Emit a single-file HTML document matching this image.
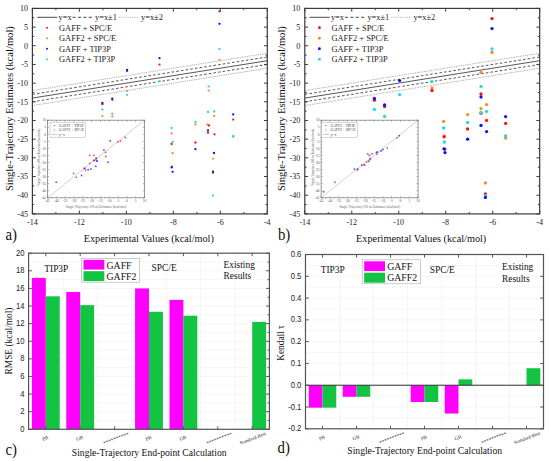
<!DOCTYPE html><html><head><meta charset="utf-8"><style>html,body{margin:0;padding:0;background:#fff;width:550px;height:461px;overflow:hidden}svg{display:block}text{font-family:"Liberation Serif", serif}</style></head><body>
<svg width="550" height="461" viewBox="0 0 550 461">
<rect width="550" height="461" fill="#fff"/>
<line x1="32.40" y1="98.07" x2="267.30" y2="60.71" stroke="#444" stroke-width="0.9" />
<line x1="32.40" y1="94.34" x2="267.30" y2="56.97" stroke="#444" stroke-width="0.9" stroke-dasharray="2.6,2.1"/>
<line x1="32.40" y1="101.81" x2="267.30" y2="64.45" stroke="#444" stroke-width="0.9" stroke-dasharray="2.6,2.1"/>
<line x1="32.40" y1="90.60" x2="267.30" y2="53.24" stroke="#8a8a8a" stroke-width="0.9" stroke-dasharray="0.8,1.0"/>
<line x1="32.40" y1="105.55" x2="267.30" y2="68.18" stroke="#8a8a8a" stroke-width="0.9" stroke-dasharray="0.8,1.0"/>
<circle cx="102.4" cy="116.1" r="1.15" fill="#ff8a20"/>
<circle cx="112.3" cy="113.6" r="1.15" fill="#ff8a20"/>
<circle cx="127.1" cy="90.8" r="1.15" fill="#ff8a20"/>
<circle cx="171.6" cy="133.4" r="1.15" fill="#ff8a20"/>
<circle cx="172.6" cy="153.2" r="1.15" fill="#ff8a20"/>
<circle cx="195.4" cy="124.4" r="1.15" fill="#ff8a20"/>
<circle cx="207.3" cy="124.5" r="1.15" fill="#ff8a20"/>
<circle cx="208.6" cy="90.6" r="1.15" fill="#ff8a20"/>
<circle cx="214.2" cy="115.9" r="1.15" fill="#ff8a20"/>
<circle cx="213.0" cy="158.6" r="1.15" fill="#ff8a20"/>
<circle cx="219.5" cy="59.9" r="1.15" fill="#ff8a20"/>
<circle cx="233.2" cy="136.8" r="1.15" fill="#ff8a20"/>
<circle cx="102.4" cy="104.2" r="1.15" fill="#ff1010"/>
<circle cx="112.3" cy="99.8" r="1.15" fill="#ff1010"/>
<circle cx="127.1" cy="71.0" r="1.15" fill="#ff1010"/>
<circle cx="159.5" cy="64.6" r="1.15" fill="#ff1010"/>
<circle cx="171.6" cy="144.0" r="1.15" fill="#ff1010"/>
<circle cx="172.0" cy="166.6" r="1.15" fill="#ff1010"/>
<circle cx="195.4" cy="142.5" r="1.15" fill="#ff1010"/>
<circle cx="209.0" cy="125.5" r="1.15" fill="#ff1010"/>
<circle cx="208.0" cy="132.7" r="1.15" fill="#ff1010"/>
<circle cx="214.5" cy="134.3" r="1.15" fill="#ff1010"/>
<circle cx="213.0" cy="171.4" r="1.15" fill="#ff1010"/>
<circle cx="219.5" cy="11.3" r="1.15" fill="#ff1010"/>
<circle cx="233.2" cy="119.6" r="1.15" fill="#ff1010"/>
<circle cx="102.4" cy="109.5" r="1.15" fill="#20dcdc"/>
<circle cx="112.3" cy="116.4" r="1.15" fill="#20dcdc"/>
<circle cx="127.1" cy="94.8" r="1.15" fill="#20dcdc"/>
<circle cx="159.5" cy="81.2" r="1.15" fill="#20dcdc"/>
<circle cx="171.6" cy="128.0" r="1.15" fill="#20dcdc"/>
<circle cx="172.6" cy="142.0" r="1.15" fill="#20dcdc"/>
<circle cx="195.4" cy="122.0" r="1.15" fill="#20dcdc"/>
<circle cx="208.0" cy="112.0" r="1.15" fill="#20dcdc"/>
<circle cx="208.6" cy="86.4" r="1.15" fill="#20dcdc"/>
<circle cx="214.2" cy="111.5" r="1.15" fill="#20dcdc"/>
<circle cx="213.0" cy="195.6" r="1.15" fill="#20dcdc"/>
<circle cx="219.5" cy="49.1" r="1.15" fill="#20dcdc"/>
<circle cx="233.2" cy="136.0" r="1.15" fill="#20dcdc"/>
<circle cx="102.4" cy="103.0" r="1.15" fill="#1010ff"/>
<circle cx="112.3" cy="98.6" r="1.15" fill="#1010ff"/>
<circle cx="127.1" cy="70.0" r="1.15" fill="#1010ff"/>
<circle cx="159.5" cy="58.2" r="1.15" fill="#1010ff"/>
<circle cx="171.6" cy="167.4" r="1.15" fill="#1010ff"/>
<circle cx="172.6" cy="171.8" r="1.15" fill="#1010ff"/>
<circle cx="195.4" cy="149.2" r="1.15" fill="#1010ff"/>
<circle cx="208.0" cy="130.3" r="1.15" fill="#1010ff"/>
<circle cx="214.0" cy="153.0" r="1.15" fill="#1010ff"/>
<circle cx="213.0" cy="172.6" r="1.15" fill="#1010ff"/>
<circle cx="219.5" cy="23.8" r="1.15" fill="#1010ff"/>
<circle cx="233.2" cy="114.4" r="1.15" fill="#1010ff"/>
<rect x="32.40" y="8.40" width="234.90" height="205.50" fill="none" stroke="#3a3a3a" stroke-width="1.2"/>
<line x1="32.40" y1="8.40" x2="35.70" y2="8.40" stroke="#3a3a3a" stroke-width="1"/>
<line x1="267.30" y1="8.40" x2="264.00" y2="8.40" stroke="#3a3a3a" stroke-width="1"/>
<text x="28.00" y="11.20" font-size="8.1" text-anchor="end" fill="#222">10</text>
<line x1="32.40" y1="17.74" x2="34.20" y2="17.74" stroke="#3a3a3a" stroke-width="1"/>
<line x1="267.30" y1="17.74" x2="265.50" y2="17.74" stroke="#3a3a3a" stroke-width="1"/>
<line x1="32.40" y1="27.08" x2="35.70" y2="27.08" stroke="#3a3a3a" stroke-width="1"/>
<line x1="267.30" y1="27.08" x2="264.00" y2="27.08" stroke="#3a3a3a" stroke-width="1"/>
<text x="28.00" y="29.88" font-size="8.1" text-anchor="end" fill="#222">5</text>
<line x1="32.40" y1="36.42" x2="34.20" y2="36.42" stroke="#3a3a3a" stroke-width="1"/>
<line x1="267.30" y1="36.42" x2="265.50" y2="36.42" stroke="#3a3a3a" stroke-width="1"/>
<line x1="32.40" y1="45.76" x2="35.70" y2="45.76" stroke="#3a3a3a" stroke-width="1"/>
<line x1="267.30" y1="45.76" x2="264.00" y2="45.76" stroke="#3a3a3a" stroke-width="1"/>
<text x="28.00" y="48.56" font-size="8.1" text-anchor="end" fill="#222">0</text>
<line x1="32.40" y1="55.10" x2="34.20" y2="55.10" stroke="#3a3a3a" stroke-width="1"/>
<line x1="267.30" y1="55.10" x2="265.50" y2="55.10" stroke="#3a3a3a" stroke-width="1"/>
<line x1="32.40" y1="64.45" x2="35.70" y2="64.45" stroke="#3a3a3a" stroke-width="1"/>
<line x1="267.30" y1="64.45" x2="264.00" y2="64.45" stroke="#3a3a3a" stroke-width="1"/>
<text x="28.00" y="67.25" font-size="8.1" text-anchor="end" fill="#222">-5</text>
<line x1="32.40" y1="73.79" x2="34.20" y2="73.79" stroke="#3a3a3a" stroke-width="1"/>
<line x1="267.30" y1="73.79" x2="265.50" y2="73.79" stroke="#3a3a3a" stroke-width="1"/>
<line x1="32.40" y1="83.13" x2="35.70" y2="83.13" stroke="#3a3a3a" stroke-width="1"/>
<line x1="267.30" y1="83.13" x2="264.00" y2="83.13" stroke="#3a3a3a" stroke-width="1"/>
<text x="28.00" y="85.93" font-size="8.1" text-anchor="end" fill="#222">-10</text>
<line x1="32.40" y1="92.47" x2="34.20" y2="92.47" stroke="#3a3a3a" stroke-width="1"/>
<line x1="267.30" y1="92.47" x2="265.50" y2="92.47" stroke="#3a3a3a" stroke-width="1"/>
<line x1="32.40" y1="101.81" x2="35.70" y2="101.81" stroke="#3a3a3a" stroke-width="1"/>
<line x1="267.30" y1="101.81" x2="264.00" y2="101.81" stroke="#3a3a3a" stroke-width="1"/>
<text x="28.00" y="104.61" font-size="8.1" text-anchor="end" fill="#222">-15</text>
<line x1="32.40" y1="111.15" x2="34.20" y2="111.15" stroke="#3a3a3a" stroke-width="1"/>
<line x1="267.30" y1="111.15" x2="265.50" y2="111.15" stroke="#3a3a3a" stroke-width="1"/>
<line x1="32.40" y1="120.49" x2="35.70" y2="120.49" stroke="#3a3a3a" stroke-width="1"/>
<line x1="267.30" y1="120.49" x2="264.00" y2="120.49" stroke="#3a3a3a" stroke-width="1"/>
<text x="28.00" y="123.29" font-size="8.1" text-anchor="end" fill="#222">-20</text>
<line x1="32.40" y1="129.83" x2="34.20" y2="129.83" stroke="#3a3a3a" stroke-width="1"/>
<line x1="267.30" y1="129.83" x2="265.50" y2="129.83" stroke="#3a3a3a" stroke-width="1"/>
<line x1="32.40" y1="139.17" x2="35.70" y2="139.17" stroke="#3a3a3a" stroke-width="1"/>
<line x1="267.30" y1="139.17" x2="264.00" y2="139.17" stroke="#3a3a3a" stroke-width="1"/>
<text x="28.00" y="141.97" font-size="8.1" text-anchor="end" fill="#222">-25</text>
<line x1="32.40" y1="148.51" x2="34.20" y2="148.51" stroke="#3a3a3a" stroke-width="1"/>
<line x1="267.30" y1="148.51" x2="265.50" y2="148.51" stroke="#3a3a3a" stroke-width="1"/>
<line x1="32.40" y1="157.85" x2="35.70" y2="157.85" stroke="#3a3a3a" stroke-width="1"/>
<line x1="267.30" y1="157.85" x2="264.00" y2="157.85" stroke="#3a3a3a" stroke-width="1"/>
<text x="28.00" y="160.65" font-size="8.1" text-anchor="end" fill="#222">-30</text>
<line x1="32.40" y1="167.20" x2="34.20" y2="167.20" stroke="#3a3a3a" stroke-width="1"/>
<line x1="267.30" y1="167.20" x2="265.50" y2="167.20" stroke="#3a3a3a" stroke-width="1"/>
<line x1="32.40" y1="176.54" x2="35.70" y2="176.54" stroke="#3a3a3a" stroke-width="1"/>
<line x1="267.30" y1="176.54" x2="264.00" y2="176.54" stroke="#3a3a3a" stroke-width="1"/>
<text x="28.00" y="179.34" font-size="8.1" text-anchor="end" fill="#222">-35</text>
<line x1="32.40" y1="185.88" x2="34.20" y2="185.88" stroke="#3a3a3a" stroke-width="1"/>
<line x1="267.30" y1="185.88" x2="265.50" y2="185.88" stroke="#3a3a3a" stroke-width="1"/>
<line x1="32.40" y1="195.22" x2="35.70" y2="195.22" stroke="#3a3a3a" stroke-width="1"/>
<line x1="267.30" y1="195.22" x2="264.00" y2="195.22" stroke="#3a3a3a" stroke-width="1"/>
<text x="28.00" y="198.02" font-size="8.1" text-anchor="end" fill="#222">-40</text>
<line x1="32.40" y1="204.56" x2="34.20" y2="204.56" stroke="#3a3a3a" stroke-width="1"/>
<line x1="267.30" y1="204.56" x2="265.50" y2="204.56" stroke="#3a3a3a" stroke-width="1"/>
<line x1="32.40" y1="213.90" x2="35.70" y2="213.90" stroke="#3a3a3a" stroke-width="1"/>
<line x1="267.30" y1="213.90" x2="264.00" y2="213.90" stroke="#3a3a3a" stroke-width="1"/>
<text x="28.00" y="216.70" font-size="8.1" text-anchor="end" fill="#222">-45</text>
<line x1="32.40" y1="213.90" x2="32.40" y2="210.60" stroke="#3a3a3a" stroke-width="1"/>
<line x1="32.40" y1="8.40" x2="32.40" y2="11.70" stroke="#3a3a3a" stroke-width="1"/>
<text x="32.40" y="224.90" font-size="8.1" text-anchor="middle" fill="#222">-14</text>
<line x1="55.89" y1="213.90" x2="55.89" y2="212.10" stroke="#3a3a3a" stroke-width="1"/>
<line x1="55.89" y1="8.40" x2="55.89" y2="10.20" stroke="#3a3a3a" stroke-width="1"/>
<line x1="79.38" y1="213.90" x2="79.38" y2="210.60" stroke="#3a3a3a" stroke-width="1"/>
<line x1="79.38" y1="8.40" x2="79.38" y2="11.70" stroke="#3a3a3a" stroke-width="1"/>
<text x="79.38" y="224.90" font-size="8.1" text-anchor="middle" fill="#222">-12</text>
<line x1="102.87" y1="213.90" x2="102.87" y2="212.10" stroke="#3a3a3a" stroke-width="1"/>
<line x1="102.87" y1="8.40" x2="102.87" y2="10.20" stroke="#3a3a3a" stroke-width="1"/>
<line x1="126.36" y1="213.90" x2="126.36" y2="210.60" stroke="#3a3a3a" stroke-width="1"/>
<line x1="126.36" y1="8.40" x2="126.36" y2="11.70" stroke="#3a3a3a" stroke-width="1"/>
<text x="126.36" y="224.90" font-size="8.1" text-anchor="middle" fill="#222">-10</text>
<line x1="149.85" y1="213.90" x2="149.85" y2="212.10" stroke="#3a3a3a" stroke-width="1"/>
<line x1="149.85" y1="8.40" x2="149.85" y2="10.20" stroke="#3a3a3a" stroke-width="1"/>
<line x1="173.34" y1="213.90" x2="173.34" y2="210.60" stroke="#3a3a3a" stroke-width="1"/>
<line x1="173.34" y1="8.40" x2="173.34" y2="11.70" stroke="#3a3a3a" stroke-width="1"/>
<text x="173.34" y="224.90" font-size="8.1" text-anchor="middle" fill="#222">-8</text>
<line x1="196.83" y1="213.90" x2="196.83" y2="212.10" stroke="#3a3a3a" stroke-width="1"/>
<line x1="196.83" y1="8.40" x2="196.83" y2="10.20" stroke="#3a3a3a" stroke-width="1"/>
<line x1="220.32" y1="213.90" x2="220.32" y2="210.60" stroke="#3a3a3a" stroke-width="1"/>
<line x1="220.32" y1="8.40" x2="220.32" y2="11.70" stroke="#3a3a3a" stroke-width="1"/>
<text x="220.32" y="224.90" font-size="8.1" text-anchor="middle" fill="#222">-6</text>
<line x1="243.81" y1="213.90" x2="243.81" y2="212.10" stroke="#3a3a3a" stroke-width="1"/>
<line x1="243.81" y1="8.40" x2="243.81" y2="10.20" stroke="#3a3a3a" stroke-width="1"/>
<line x1="267.30" y1="213.90" x2="267.30" y2="210.60" stroke="#3a3a3a" stroke-width="1"/>
<line x1="267.30" y1="8.40" x2="267.30" y2="11.70" stroke="#3a3a3a" stroke-width="1"/>
<text x="267.30" y="224.90" font-size="8.1" text-anchor="middle" fill="#222">-4</text>
<line x1="37.3" y1="17.3" x2="57.3" y2="17.3" stroke="#333" stroke-width="0.9"/>
<text x="58.5" y="20.2" font-size="8.4" fill="#222">y=x</text>
<line x1="72.5" y1="17.3" x2="92" y2="17.3" stroke="#333" stroke-width="0.9" stroke-dasharray="3.2,2.2"/>
<text x="95" y="20.2" font-size="8.4" fill="#222">y=x±1</text>
<line x1="119" y1="17.3" x2="138" y2="17.3" stroke="#999" stroke-width="0.9" stroke-dasharray="0.9,1.3"/>
<text x="141" y="20.2" font-size="8.4" fill="#222">y=x±2</text>
<circle cx="47.0" cy="27.80" r="1.0" fill="#ff1010"/>
<text x="59.0" y="30.80" font-size="8.45" fill="#222">GAFF + SPC/E</text>
<circle cx="47.0" cy="38.30" r="1.0" fill="#ff8a20"/>
<text x="59.0" y="41.30" font-size="8.45" fill="#222">GAFF2 + SPC/E</text>
<circle cx="47.0" cy="48.80" r="1.0" fill="#1010ff"/>
<text x="59.0" y="51.80" font-size="8.45" fill="#222">GAFF + TIP3P</text>
<circle cx="47.0" cy="59.30" r="1.0" fill="#20dcdc"/>
<text x="59.0" y="62.30" font-size="8.45" fill="#222">GAFF2 + TIP3P</text>
<text x="148.8" y="242" font-size="10.25" text-anchor="middle" fill="#111">Experimental Values (kcal/mol)</text>
<text transform="translate(13.0,108.6) rotate(-90)" x="0" y="0" font-size="10.6" text-anchor="middle" fill="#111">Single-Trajectory Estimates (kcal/mol)</text>
<rect x="47.50" y="120.20" width="97.00" height="77.60" fill="#fff" stroke="#888" stroke-width="0.8"/>
<line x1="47.50" y1="197.80" x2="144.50" y2="120.20" stroke="#aaa" stroke-width="0.55"/>
<line x1="47.50" y1="197.80" x2="47.50" y2="196.30" stroke="#555" stroke-width="0.5"/>
<line x1="47.50" y1="120.20" x2="47.50" y2="121.70" stroke="#555" stroke-width="0.5"/>
<line x1="47.50" y1="197.80" x2="49.00" y2="197.80" stroke="#555" stroke-width="0.5"/>
<line x1="144.50" y1="197.80" x2="143.00" y2="197.80" stroke="#555" stroke-width="0.5"/>
<text x="47.50" y="202.40" font-size="3.5" text-anchor="middle" fill="#555">-45</text>
<text x="46.00" y="199.00" font-size="3.5" text-anchor="end" fill="#555">-45</text>
<line x1="51.91" y1="197.80" x2="51.91" y2="197.00" stroke="#555" stroke-width="0.5"/>
<line x1="51.91" y1="120.20" x2="51.91" y2="121.00" stroke="#555" stroke-width="0.5"/>
<line x1="47.50" y1="194.27" x2="48.30" y2="194.27" stroke="#555" stroke-width="0.5"/>
<line x1="144.50" y1="194.27" x2="143.70" y2="194.27" stroke="#555" stroke-width="0.5"/>
<line x1="56.32" y1="197.80" x2="56.32" y2="196.30" stroke="#555" stroke-width="0.5"/>
<line x1="56.32" y1="120.20" x2="56.32" y2="121.70" stroke="#555" stroke-width="0.5"/>
<line x1="47.50" y1="190.75" x2="49.00" y2="190.75" stroke="#555" stroke-width="0.5"/>
<line x1="144.50" y1="190.75" x2="143.00" y2="190.75" stroke="#555" stroke-width="0.5"/>
<text x="56.32" y="202.40" font-size="3.5" text-anchor="middle" fill="#555">-40</text>
<text x="46.00" y="191.95" font-size="3.5" text-anchor="end" fill="#555">-40</text>
<line x1="60.73" y1="197.80" x2="60.73" y2="197.00" stroke="#555" stroke-width="0.5"/>
<line x1="60.73" y1="120.20" x2="60.73" y2="121.00" stroke="#555" stroke-width="0.5"/>
<line x1="47.50" y1="187.22" x2="48.30" y2="187.22" stroke="#555" stroke-width="0.5"/>
<line x1="144.50" y1="187.22" x2="143.70" y2="187.22" stroke="#555" stroke-width="0.5"/>
<line x1="65.14" y1="197.80" x2="65.14" y2="196.30" stroke="#555" stroke-width="0.5"/>
<line x1="65.14" y1="120.20" x2="65.14" y2="121.70" stroke="#555" stroke-width="0.5"/>
<line x1="47.50" y1="183.69" x2="49.00" y2="183.69" stroke="#555" stroke-width="0.5"/>
<line x1="144.50" y1="183.69" x2="143.00" y2="183.69" stroke="#555" stroke-width="0.5"/>
<text x="65.14" y="202.40" font-size="3.5" text-anchor="middle" fill="#555">-35</text>
<text x="46.00" y="184.89" font-size="3.5" text-anchor="end" fill="#555">-35</text>
<line x1="69.55" y1="197.80" x2="69.55" y2="197.00" stroke="#555" stroke-width="0.5"/>
<line x1="69.55" y1="120.20" x2="69.55" y2="121.00" stroke="#555" stroke-width="0.5"/>
<line x1="47.50" y1="180.16" x2="48.30" y2="180.16" stroke="#555" stroke-width="0.5"/>
<line x1="144.50" y1="180.16" x2="143.70" y2="180.16" stroke="#555" stroke-width="0.5"/>
<line x1="73.95" y1="197.80" x2="73.95" y2="196.30" stroke="#555" stroke-width="0.5"/>
<line x1="73.95" y1="120.20" x2="73.95" y2="121.70" stroke="#555" stroke-width="0.5"/>
<line x1="47.50" y1="176.64" x2="49.00" y2="176.64" stroke="#555" stroke-width="0.5"/>
<line x1="144.50" y1="176.64" x2="143.00" y2="176.64" stroke="#555" stroke-width="0.5"/>
<text x="73.95" y="202.40" font-size="3.5" text-anchor="middle" fill="#555">-30</text>
<text x="46.00" y="177.84" font-size="3.5" text-anchor="end" fill="#555">-30</text>
<line x1="78.36" y1="197.80" x2="78.36" y2="197.00" stroke="#555" stroke-width="0.5"/>
<line x1="78.36" y1="120.20" x2="78.36" y2="121.00" stroke="#555" stroke-width="0.5"/>
<line x1="47.50" y1="173.11" x2="48.30" y2="173.11" stroke="#555" stroke-width="0.5"/>
<line x1="144.50" y1="173.11" x2="143.70" y2="173.11" stroke="#555" stroke-width="0.5"/>
<line x1="82.77" y1="197.80" x2="82.77" y2="196.30" stroke="#555" stroke-width="0.5"/>
<line x1="82.77" y1="120.20" x2="82.77" y2="121.70" stroke="#555" stroke-width="0.5"/>
<line x1="47.50" y1="169.58" x2="49.00" y2="169.58" stroke="#555" stroke-width="0.5"/>
<line x1="144.50" y1="169.58" x2="143.00" y2="169.58" stroke="#555" stroke-width="0.5"/>
<text x="82.77" y="202.40" font-size="3.5" text-anchor="middle" fill="#555">-25</text>
<text x="46.00" y="170.78" font-size="3.5" text-anchor="end" fill="#555">-25</text>
<line x1="87.18" y1="197.80" x2="87.18" y2="197.00" stroke="#555" stroke-width="0.5"/>
<line x1="87.18" y1="120.20" x2="87.18" y2="121.00" stroke="#555" stroke-width="0.5"/>
<line x1="47.50" y1="166.05" x2="48.30" y2="166.05" stroke="#555" stroke-width="0.5"/>
<line x1="144.50" y1="166.05" x2="143.70" y2="166.05" stroke="#555" stroke-width="0.5"/>
<line x1="91.59" y1="197.80" x2="91.59" y2="196.30" stroke="#555" stroke-width="0.5"/>
<line x1="91.59" y1="120.20" x2="91.59" y2="121.70" stroke="#555" stroke-width="0.5"/>
<line x1="47.50" y1="162.53" x2="49.00" y2="162.53" stroke="#555" stroke-width="0.5"/>
<line x1="144.50" y1="162.53" x2="143.00" y2="162.53" stroke="#555" stroke-width="0.5"/>
<text x="91.59" y="202.40" font-size="3.5" text-anchor="middle" fill="#555">-20</text>
<text x="46.00" y="163.73" font-size="3.5" text-anchor="end" fill="#555">-20</text>
<line x1="96.00" y1="197.80" x2="96.00" y2="197.00" stroke="#555" stroke-width="0.5"/>
<line x1="96.00" y1="120.20" x2="96.00" y2="121.00" stroke="#555" stroke-width="0.5"/>
<line x1="47.50" y1="159.00" x2="48.30" y2="159.00" stroke="#555" stroke-width="0.5"/>
<line x1="144.50" y1="159.00" x2="143.70" y2="159.00" stroke="#555" stroke-width="0.5"/>
<line x1="100.41" y1="197.80" x2="100.41" y2="196.30" stroke="#555" stroke-width="0.5"/>
<line x1="100.41" y1="120.20" x2="100.41" y2="121.70" stroke="#555" stroke-width="0.5"/>
<line x1="47.50" y1="155.47" x2="49.00" y2="155.47" stroke="#555" stroke-width="0.5"/>
<line x1="144.50" y1="155.47" x2="143.00" y2="155.47" stroke="#555" stroke-width="0.5"/>
<text x="100.41" y="202.40" font-size="3.5" text-anchor="middle" fill="#555">-15</text>
<text x="46.00" y="156.67" font-size="3.5" text-anchor="end" fill="#555">-15</text>
<line x1="104.82" y1="197.80" x2="104.82" y2="197.00" stroke="#555" stroke-width="0.5"/>
<line x1="104.82" y1="120.20" x2="104.82" y2="121.00" stroke="#555" stroke-width="0.5"/>
<line x1="47.50" y1="151.95" x2="48.30" y2="151.95" stroke="#555" stroke-width="0.5"/>
<line x1="144.50" y1="151.95" x2="143.70" y2="151.95" stroke="#555" stroke-width="0.5"/>
<line x1="109.23" y1="197.80" x2="109.23" y2="196.30" stroke="#555" stroke-width="0.5"/>
<line x1="109.23" y1="120.20" x2="109.23" y2="121.70" stroke="#555" stroke-width="0.5"/>
<line x1="47.50" y1="148.42" x2="49.00" y2="148.42" stroke="#555" stroke-width="0.5"/>
<line x1="144.50" y1="148.42" x2="143.00" y2="148.42" stroke="#555" stroke-width="0.5"/>
<text x="109.23" y="202.40" font-size="3.5" text-anchor="middle" fill="#555">-10</text>
<text x="46.00" y="149.62" font-size="3.5" text-anchor="end" fill="#555">-10</text>
<line x1="113.64" y1="197.80" x2="113.64" y2="197.00" stroke="#555" stroke-width="0.5"/>
<line x1="113.64" y1="120.20" x2="113.64" y2="121.00" stroke="#555" stroke-width="0.5"/>
<line x1="47.50" y1="144.89" x2="48.30" y2="144.89" stroke="#555" stroke-width="0.5"/>
<line x1="144.50" y1="144.89" x2="143.70" y2="144.89" stroke="#555" stroke-width="0.5"/>
<line x1="118.05" y1="197.80" x2="118.05" y2="196.30" stroke="#555" stroke-width="0.5"/>
<line x1="118.05" y1="120.20" x2="118.05" y2="121.70" stroke="#555" stroke-width="0.5"/>
<line x1="47.50" y1="141.36" x2="49.00" y2="141.36" stroke="#555" stroke-width="0.5"/>
<line x1="144.50" y1="141.36" x2="143.00" y2="141.36" stroke="#555" stroke-width="0.5"/>
<text x="118.05" y="202.40" font-size="3.5" text-anchor="middle" fill="#555">-5</text>
<text x="46.00" y="142.56" font-size="3.5" text-anchor="end" fill="#555">-5</text>
<line x1="122.45" y1="197.80" x2="122.45" y2="197.00" stroke="#555" stroke-width="0.5"/>
<line x1="122.45" y1="120.20" x2="122.45" y2="121.00" stroke="#555" stroke-width="0.5"/>
<line x1="47.50" y1="137.84" x2="48.30" y2="137.84" stroke="#555" stroke-width="0.5"/>
<line x1="144.50" y1="137.84" x2="143.70" y2="137.84" stroke="#555" stroke-width="0.5"/>
<line x1="126.86" y1="197.80" x2="126.86" y2="196.30" stroke="#555" stroke-width="0.5"/>
<line x1="126.86" y1="120.20" x2="126.86" y2="121.70" stroke="#555" stroke-width="0.5"/>
<line x1="47.50" y1="134.31" x2="49.00" y2="134.31" stroke="#555" stroke-width="0.5"/>
<line x1="144.50" y1="134.31" x2="143.00" y2="134.31" stroke="#555" stroke-width="0.5"/>
<text x="126.86" y="202.40" font-size="3.5" text-anchor="middle" fill="#555">0</text>
<text x="46.00" y="135.51" font-size="3.5" text-anchor="end" fill="#555">0</text>
<line x1="131.27" y1="197.80" x2="131.27" y2="197.00" stroke="#555" stroke-width="0.5"/>
<line x1="131.27" y1="120.20" x2="131.27" y2="121.00" stroke="#555" stroke-width="0.5"/>
<line x1="47.50" y1="130.78" x2="48.30" y2="130.78" stroke="#555" stroke-width="0.5"/>
<line x1="144.50" y1="130.78" x2="143.70" y2="130.78" stroke="#555" stroke-width="0.5"/>
<line x1="135.68" y1="197.80" x2="135.68" y2="196.30" stroke="#555" stroke-width="0.5"/>
<line x1="135.68" y1="120.20" x2="135.68" y2="121.70" stroke="#555" stroke-width="0.5"/>
<line x1="47.50" y1="127.25" x2="49.00" y2="127.25" stroke="#555" stroke-width="0.5"/>
<line x1="144.50" y1="127.25" x2="143.00" y2="127.25" stroke="#555" stroke-width="0.5"/>
<text x="135.68" y="202.40" font-size="3.5" text-anchor="middle" fill="#555">5</text>
<text x="46.00" y="128.45" font-size="3.5" text-anchor="end" fill="#555">5</text>
<line x1="140.09" y1="197.80" x2="140.09" y2="197.00" stroke="#555" stroke-width="0.5"/>
<line x1="140.09" y1="120.20" x2="140.09" y2="121.00" stroke="#555" stroke-width="0.5"/>
<line x1="47.50" y1="123.73" x2="48.30" y2="123.73" stroke="#555" stroke-width="0.5"/>
<line x1="144.50" y1="123.73" x2="143.70" y2="123.73" stroke="#555" stroke-width="0.5"/>
<line x1="144.50" y1="197.80" x2="144.50" y2="196.30" stroke="#555" stroke-width="0.5"/>
<line x1="144.50" y1="120.20" x2="144.50" y2="121.70" stroke="#555" stroke-width="0.5"/>
<line x1="47.50" y1="120.20" x2="49.00" y2="120.20" stroke="#555" stroke-width="0.5"/>
<line x1="144.50" y1="120.20" x2="143.00" y2="120.20" stroke="#555" stroke-width="0.5"/>
<text x="144.50" y="202.40" font-size="3.5" text-anchor="middle" fill="#555">10</text>
<text x="46.00" y="121.40" font-size="3.5" text-anchor="end" fill="#555">10</text>
<text x="96.00" y="207.60" font-size="3.3" text-anchor="middle" fill="#666">Single-Trajectory 100 ns Estimates (kcal/mol)</text>
<text transform="translate(39.90,157.20) rotate(-90)" font-size="3.1" text-anchor="middle" fill="#666">Single-Trajectory 100 ns Estimates (kcal/mol)</text>
<rect x="50" y="122.4" width="35.7" height="14.8" fill="#fff" stroke="#999" stroke-width="0.4"/>
<circle cx="54.5" cy="125.6" r="0.6" fill="#3333ff"/>
<text x="59" y="126.9" font-size="3.7" fill="#333">GAFF2 + TIP3P</text>
<circle cx="54.5" cy="130" r="0.6" fill="#ff3333"/>
<text x="59" y="131.3" font-size="3.7" fill="#333">GAFF2 + SPC/E</text>
<line x1="51.5" y1="134.5" x2="57.5" y2="134.5" stroke="#888" stroke-width="0.4"/>
<text x="59" y="135.8" font-size="3.7" fill="#333">y=x</text>
<rect x="124.60" y="136.70" width="1.6" height="1.6" fill="#3030ff" opacity="0.85"/>
<rect x="117.20" y="141.10" width="1.6" height="1.6" fill="#ff3030" opacity="0.85"/>
<rect x="119.70" y="140.20" width="1.6" height="1.6" fill="#ff3030" opacity="0.85"/>
<rect x="109.40" y="140.00" width="1.6" height="1.6" fill="#3030ff" opacity="0.85"/>
<rect x="103.10" y="149.20" width="1.6" height="1.6" fill="#3030ff" opacity="0.85"/>
<rect x="104.80" y="151.60" width="1.6" height="1.6" fill="#ff3030" opacity="0.85"/>
<rect x="105.00" y="155.70" width="1.6" height="1.6" fill="#ff3030" opacity="0.85"/>
<rect x="95.50" y="157.60" width="1.6" height="1.6" fill="#3030ff" opacity="0.85"/>
<rect x="96.20" y="160.30" width="1.6" height="1.6" fill="#3030ff" opacity="0.85"/>
<rect x="107.20" y="161.40" width="1.6" height="1.6" fill="#3030ff" opacity="0.85"/>
<rect x="88.90" y="154.60" width="1.6" height="1.6" fill="#ff3030" opacity="0.85"/>
<rect x="93.10" y="154.60" width="1.6" height="1.6" fill="#ff3030" opacity="0.85"/>
<rect x="95.30" y="157.80" width="1.6" height="1.6" fill="#3030ff" opacity="0.85"/>
<rect x="92.70" y="159.60" width="1.6" height="1.6" fill="#ff3030" opacity="0.85"/>
<rect x="93.70" y="159.60" width="1.6" height="1.6" fill="#3030ff" opacity="0.85"/>
<rect x="96.10" y="160.20" width="1.6" height="1.6" fill="#3030ff" opacity="0.85"/>
<rect x="88.90" y="162.60" width="1.6" height="1.6" fill="#ff3030" opacity="0.85"/>
<rect x="94.90" y="165.50" width="1.6" height="1.6" fill="#3030ff" opacity="0.85"/>
<rect x="83.20" y="167.60" width="1.6" height="1.6" fill="#ff3030" opacity="0.85"/>
<rect x="84.00" y="167.60" width="1.6" height="1.6" fill="#3030ff" opacity="0.85"/>
<rect x="84.80" y="169.50" width="1.6" height="1.6" fill="#ff3030" opacity="0.85"/>
<rect x="87.40" y="168.80" width="1.6" height="1.6" fill="#3030ff" opacity="0.85"/>
<rect x="90.20" y="168.30" width="1.6" height="1.6" fill="#3030ff" opacity="0.85"/>
<rect x="72.80" y="172.70" width="1.6" height="1.6" fill="#ff3030" opacity="0.85"/>
<rect x="75.50" y="176.50" width="1.6" height="1.6" fill="#ff3030" opacity="0.85"/>
<rect x="80.80" y="174.70" width="1.6" height="1.6" fill="#3030ff" opacity="0.85"/>
<rect x="55.50" y="181.40" width="1.6" height="1.6" fill="#3030ff" opacity="0.85"/>
<line x1="304.80" y1="98.07" x2="539.70" y2="60.71" stroke="#444" stroke-width="0.9" />
<line x1="304.80" y1="94.34" x2="539.70" y2="56.97" stroke="#444" stroke-width="0.9" stroke-dasharray="2.6,2.1"/>
<line x1="304.80" y1="101.81" x2="539.70" y2="64.45" stroke="#444" stroke-width="0.9" stroke-dasharray="2.6,2.1"/>
<line x1="304.80" y1="90.60" x2="539.70" y2="53.24" stroke="#8a8a8a" stroke-width="0.9" stroke-dasharray="0.8,1.0"/>
<line x1="304.80" y1="105.55" x2="539.70" y2="68.18" stroke="#8a8a8a" stroke-width="0.9" stroke-dasharray="0.8,1.0"/>
<circle cx="432.0" cy="88.0" r="1.65" fill="#ff8a20"/>
<circle cx="443.6" cy="121.4" r="1.65" fill="#ff8a20"/>
<circle cx="444.4" cy="136.0" r="1.65" fill="#ff8a20"/>
<circle cx="467.6" cy="114.6" r="1.65" fill="#ff8a20"/>
<circle cx="481.0" cy="72.4" r="1.65" fill="#ff8a20"/>
<circle cx="481.0" cy="108.6" r="1.65" fill="#ff8a20"/>
<circle cx="486.6" cy="104.6" r="1.65" fill="#ff8a20"/>
<circle cx="485.4" cy="183.0" r="1.65" fill="#ff8a20"/>
<circle cx="492.0" cy="52.4" r="1.65" fill="#ff8a20"/>
<circle cx="505.6" cy="138.0" r="1.65" fill="#ff8a20"/>
<circle cx="374.4" cy="100.2" r="1.65" fill="#ff1010"/>
<circle cx="384.6" cy="106.6" r="1.65" fill="#ff1010"/>
<circle cx="432.0" cy="90.5" r="1.65" fill="#ff1010"/>
<circle cx="444.0" cy="136.8" r="1.65" fill="#ff1010"/>
<circle cx="444.8" cy="149.2" r="1.65" fill="#ff1010"/>
<circle cx="467.6" cy="129.0" r="1.65" fill="#ff1010"/>
<circle cx="481.0" cy="94.0" r="1.65" fill="#ff1010"/>
<circle cx="481.0" cy="113.2" r="1.65" fill="#ff1010"/>
<circle cx="486.6" cy="120.4" r="1.65" fill="#ff1010"/>
<circle cx="485.4" cy="194.0" r="1.65" fill="#ff1010"/>
<circle cx="492.0" cy="18.6" r="1.65" fill="#ff1010"/>
<circle cx="505.6" cy="123.4" r="1.65" fill="#ff1010"/>
<circle cx="374.4" cy="109.4" r="1.65" fill="#20dcdc"/>
<circle cx="384.6" cy="116.4" r="1.65" fill="#20dcdc"/>
<circle cx="399.6" cy="94.6" r="1.65" fill="#20dcdc"/>
<circle cx="432.0" cy="81.6" r="1.65" fill="#20dcdc"/>
<circle cx="443.6" cy="128.0" r="1.65" fill="#20dcdc"/>
<circle cx="444.4" cy="142.0" r="1.65" fill="#20dcdc"/>
<circle cx="467.6" cy="122.4" r="1.65" fill="#20dcdc"/>
<circle cx="481.0" cy="86.4" r="1.65" fill="#20dcdc"/>
<circle cx="481.0" cy="112.4" r="1.65" fill="#20dcdc"/>
<circle cx="486.6" cy="111.4" r="1.65" fill="#20dcdc"/>
<circle cx="485.4" cy="195.6" r="1.65" fill="#20dcdc"/>
<circle cx="492.0" cy="49.0" r="1.65" fill="#20dcdc"/>
<circle cx="505.6" cy="136.0" r="1.65" fill="#20dcdc"/>
<circle cx="374.4" cy="98.4" r="1.65" fill="#1010ff"/>
<circle cx="384.6" cy="105.0" r="1.65" fill="#1010ff"/>
<circle cx="399.6" cy="80.6" r="1.65" fill="#1010ff"/>
<circle cx="444.0" cy="148.8" r="1.65" fill="#1010ff"/>
<circle cx="445.0" cy="152.6" r="1.65" fill="#1010ff"/>
<circle cx="467.6" cy="139.2" r="1.65" fill="#1010ff"/>
<circle cx="481.0" cy="97.0" r="1.65" fill="#1010ff"/>
<circle cx="481.0" cy="125.4" r="1.65" fill="#1010ff"/>
<circle cx="486.6" cy="131.6" r="1.65" fill="#1010ff"/>
<circle cx="485.4" cy="197.4" r="1.65" fill="#1010ff"/>
<circle cx="492.0" cy="28.6" r="1.65" fill="#1010ff"/>
<circle cx="505.6" cy="116.6" r="1.65" fill="#1010ff"/>
<rect x="304.80" y="8.40" width="234.90" height="205.50" fill="none" stroke="#3a3a3a" stroke-width="1.2"/>
<line x1="304.80" y1="8.40" x2="308.10" y2="8.40" stroke="#3a3a3a" stroke-width="1"/>
<line x1="539.70" y1="8.40" x2="536.40" y2="8.40" stroke="#3a3a3a" stroke-width="1"/>
<text x="300.40" y="11.20" font-size="8.1" text-anchor="end" fill="#222">10</text>
<line x1="304.80" y1="17.74" x2="306.60" y2="17.74" stroke="#3a3a3a" stroke-width="1"/>
<line x1="539.70" y1="17.74" x2="537.90" y2="17.74" stroke="#3a3a3a" stroke-width="1"/>
<line x1="304.80" y1="27.08" x2="308.10" y2="27.08" stroke="#3a3a3a" stroke-width="1"/>
<line x1="539.70" y1="27.08" x2="536.40" y2="27.08" stroke="#3a3a3a" stroke-width="1"/>
<text x="300.40" y="29.88" font-size="8.1" text-anchor="end" fill="#222">5</text>
<line x1="304.80" y1="36.42" x2="306.60" y2="36.42" stroke="#3a3a3a" stroke-width="1"/>
<line x1="539.70" y1="36.42" x2="537.90" y2="36.42" stroke="#3a3a3a" stroke-width="1"/>
<line x1="304.80" y1="45.76" x2="308.10" y2="45.76" stroke="#3a3a3a" stroke-width="1"/>
<line x1="539.70" y1="45.76" x2="536.40" y2="45.76" stroke="#3a3a3a" stroke-width="1"/>
<text x="300.40" y="48.56" font-size="8.1" text-anchor="end" fill="#222">0</text>
<line x1="304.80" y1="55.10" x2="306.60" y2="55.10" stroke="#3a3a3a" stroke-width="1"/>
<line x1="539.70" y1="55.10" x2="537.90" y2="55.10" stroke="#3a3a3a" stroke-width="1"/>
<line x1="304.80" y1="64.45" x2="308.10" y2="64.45" stroke="#3a3a3a" stroke-width="1"/>
<line x1="539.70" y1="64.45" x2="536.40" y2="64.45" stroke="#3a3a3a" stroke-width="1"/>
<text x="300.40" y="67.25" font-size="8.1" text-anchor="end" fill="#222">-5</text>
<line x1="304.80" y1="73.79" x2="306.60" y2="73.79" stroke="#3a3a3a" stroke-width="1"/>
<line x1="539.70" y1="73.79" x2="537.90" y2="73.79" stroke="#3a3a3a" stroke-width="1"/>
<line x1="304.80" y1="83.13" x2="308.10" y2="83.13" stroke="#3a3a3a" stroke-width="1"/>
<line x1="539.70" y1="83.13" x2="536.40" y2="83.13" stroke="#3a3a3a" stroke-width="1"/>
<text x="300.40" y="85.93" font-size="8.1" text-anchor="end" fill="#222">-10</text>
<line x1="304.80" y1="92.47" x2="306.60" y2="92.47" stroke="#3a3a3a" stroke-width="1"/>
<line x1="539.70" y1="92.47" x2="537.90" y2="92.47" stroke="#3a3a3a" stroke-width="1"/>
<line x1="304.80" y1="101.81" x2="308.10" y2="101.81" stroke="#3a3a3a" stroke-width="1"/>
<line x1="539.70" y1="101.81" x2="536.40" y2="101.81" stroke="#3a3a3a" stroke-width="1"/>
<text x="300.40" y="104.61" font-size="8.1" text-anchor="end" fill="#222">-15</text>
<line x1="304.80" y1="111.15" x2="306.60" y2="111.15" stroke="#3a3a3a" stroke-width="1"/>
<line x1="539.70" y1="111.15" x2="537.90" y2="111.15" stroke="#3a3a3a" stroke-width="1"/>
<line x1="304.80" y1="120.49" x2="308.10" y2="120.49" stroke="#3a3a3a" stroke-width="1"/>
<line x1="539.70" y1="120.49" x2="536.40" y2="120.49" stroke="#3a3a3a" stroke-width="1"/>
<text x="300.40" y="123.29" font-size="8.1" text-anchor="end" fill="#222">-20</text>
<line x1="304.80" y1="129.83" x2="306.60" y2="129.83" stroke="#3a3a3a" stroke-width="1"/>
<line x1="539.70" y1="129.83" x2="537.90" y2="129.83" stroke="#3a3a3a" stroke-width="1"/>
<line x1="304.80" y1="139.17" x2="308.10" y2="139.17" stroke="#3a3a3a" stroke-width="1"/>
<line x1="539.70" y1="139.17" x2="536.40" y2="139.17" stroke="#3a3a3a" stroke-width="1"/>
<text x="300.40" y="141.97" font-size="8.1" text-anchor="end" fill="#222">-25</text>
<line x1="304.80" y1="148.51" x2="306.60" y2="148.51" stroke="#3a3a3a" stroke-width="1"/>
<line x1="539.70" y1="148.51" x2="537.90" y2="148.51" stroke="#3a3a3a" stroke-width="1"/>
<line x1="304.80" y1="157.85" x2="308.10" y2="157.85" stroke="#3a3a3a" stroke-width="1"/>
<line x1="539.70" y1="157.85" x2="536.40" y2="157.85" stroke="#3a3a3a" stroke-width="1"/>
<text x="300.40" y="160.65" font-size="8.1" text-anchor="end" fill="#222">-30</text>
<line x1="304.80" y1="167.20" x2="306.60" y2="167.20" stroke="#3a3a3a" stroke-width="1"/>
<line x1="539.70" y1="167.20" x2="537.90" y2="167.20" stroke="#3a3a3a" stroke-width="1"/>
<line x1="304.80" y1="176.54" x2="308.10" y2="176.54" stroke="#3a3a3a" stroke-width="1"/>
<line x1="539.70" y1="176.54" x2="536.40" y2="176.54" stroke="#3a3a3a" stroke-width="1"/>
<text x="300.40" y="179.34" font-size="8.1" text-anchor="end" fill="#222">-35</text>
<line x1="304.80" y1="185.88" x2="306.60" y2="185.88" stroke="#3a3a3a" stroke-width="1"/>
<line x1="539.70" y1="185.88" x2="537.90" y2="185.88" stroke="#3a3a3a" stroke-width="1"/>
<line x1="304.80" y1="195.22" x2="308.10" y2="195.22" stroke="#3a3a3a" stroke-width="1"/>
<line x1="539.70" y1="195.22" x2="536.40" y2="195.22" stroke="#3a3a3a" stroke-width="1"/>
<text x="300.40" y="198.02" font-size="8.1" text-anchor="end" fill="#222">-40</text>
<line x1="304.80" y1="204.56" x2="306.60" y2="204.56" stroke="#3a3a3a" stroke-width="1"/>
<line x1="539.70" y1="204.56" x2="537.90" y2="204.56" stroke="#3a3a3a" stroke-width="1"/>
<line x1="304.80" y1="213.90" x2="308.10" y2="213.90" stroke="#3a3a3a" stroke-width="1"/>
<line x1="539.70" y1="213.90" x2="536.40" y2="213.90" stroke="#3a3a3a" stroke-width="1"/>
<text x="300.40" y="216.70" font-size="8.1" text-anchor="end" fill="#222">-45</text>
<line x1="304.80" y1="213.90" x2="304.80" y2="210.60" stroke="#3a3a3a" stroke-width="1"/>
<line x1="304.80" y1="8.40" x2="304.80" y2="11.70" stroke="#3a3a3a" stroke-width="1"/>
<text x="304.80" y="224.90" font-size="8.1" text-anchor="middle" fill="#222">-14</text>
<line x1="328.29" y1="213.90" x2="328.29" y2="212.10" stroke="#3a3a3a" stroke-width="1"/>
<line x1="328.29" y1="8.40" x2="328.29" y2="10.20" stroke="#3a3a3a" stroke-width="1"/>
<line x1="351.78" y1="213.90" x2="351.78" y2="210.60" stroke="#3a3a3a" stroke-width="1"/>
<line x1="351.78" y1="8.40" x2="351.78" y2="11.70" stroke="#3a3a3a" stroke-width="1"/>
<text x="351.78" y="224.90" font-size="8.1" text-anchor="middle" fill="#222">-12</text>
<line x1="375.27" y1="213.90" x2="375.27" y2="212.10" stroke="#3a3a3a" stroke-width="1"/>
<line x1="375.27" y1="8.40" x2="375.27" y2="10.20" stroke="#3a3a3a" stroke-width="1"/>
<line x1="398.76" y1="213.90" x2="398.76" y2="210.60" stroke="#3a3a3a" stroke-width="1"/>
<line x1="398.76" y1="8.40" x2="398.76" y2="11.70" stroke="#3a3a3a" stroke-width="1"/>
<text x="398.76" y="224.90" font-size="8.1" text-anchor="middle" fill="#222">-10</text>
<line x1="422.25" y1="213.90" x2="422.25" y2="212.10" stroke="#3a3a3a" stroke-width="1"/>
<line x1="422.25" y1="8.40" x2="422.25" y2="10.20" stroke="#3a3a3a" stroke-width="1"/>
<line x1="445.74" y1="213.90" x2="445.74" y2="210.60" stroke="#3a3a3a" stroke-width="1"/>
<line x1="445.74" y1="8.40" x2="445.74" y2="11.70" stroke="#3a3a3a" stroke-width="1"/>
<text x="445.74" y="224.90" font-size="8.1" text-anchor="middle" fill="#222">-8</text>
<line x1="469.23" y1="213.90" x2="469.23" y2="212.10" stroke="#3a3a3a" stroke-width="1"/>
<line x1="469.23" y1="8.40" x2="469.23" y2="10.20" stroke="#3a3a3a" stroke-width="1"/>
<line x1="492.72" y1="213.90" x2="492.72" y2="210.60" stroke="#3a3a3a" stroke-width="1"/>
<line x1="492.72" y1="8.40" x2="492.72" y2="11.70" stroke="#3a3a3a" stroke-width="1"/>
<text x="492.72" y="224.90" font-size="8.1" text-anchor="middle" fill="#222">-6</text>
<line x1="516.21" y1="213.90" x2="516.21" y2="212.10" stroke="#3a3a3a" stroke-width="1"/>
<line x1="516.21" y1="8.40" x2="516.21" y2="10.20" stroke="#3a3a3a" stroke-width="1"/>
<line x1="539.70" y1="213.90" x2="539.70" y2="210.60" stroke="#3a3a3a" stroke-width="1"/>
<line x1="539.70" y1="8.40" x2="539.70" y2="11.70" stroke="#3a3a3a" stroke-width="1"/>
<text x="539.70" y="224.90" font-size="8.1" text-anchor="middle" fill="#222">-4</text>
<line x1="309.7" y1="17.3" x2="329.7" y2="17.3" stroke="#333" stroke-width="0.9"/>
<text x="330.9" y="20.2" font-size="8.4" fill="#222">y=x</text>
<line x1="344.9" y1="17.3" x2="364.4" y2="17.3" stroke="#333" stroke-width="0.9" stroke-dasharray="3.2,2.2"/>
<text x="367.4" y="20.2" font-size="8.4" fill="#222">y=x±1</text>
<line x1="391.4" y1="17.3" x2="410.4" y2="17.3" stroke="#999" stroke-width="0.9" stroke-dasharray="0.9,1.3"/>
<text x="413.4" y="20.2" font-size="8.4" fill="#222">y=x±2</text>
<circle cx="319.4" cy="27.80" r="1.45" fill="#ff1010"/>
<text x="331.4" y="30.80" font-size="8.45" fill="#222">GAFF + SPC/E</text>
<circle cx="319.4" cy="38.30" r="1.45" fill="#ff8a20"/>
<text x="331.4" y="41.30" font-size="8.45" fill="#222">GAFF2 + SPC/E</text>
<circle cx="319.4" cy="48.80" r="1.45" fill="#1010ff"/>
<text x="331.4" y="51.80" font-size="8.45" fill="#222">GAFF + TIP3P</text>
<circle cx="319.4" cy="59.30" r="1.45" fill="#20dcdc"/>
<text x="331.4" y="62.30" font-size="8.45" fill="#222">GAFF2 + TIP3P</text>
<text x="421.2" y="242" font-size="10.25" text-anchor="middle" fill="#111">Experimental Values (kcal/mol)</text>
<text transform="translate(285.4,108.6) rotate(-90)" x="0" y="0" font-size="10.6" text-anchor="middle" fill="#111">Single-Trajectory Estimates (kcal/mol)</text>
<rect x="321.10" y="120.20" width="97.00" height="77.60" fill="#fff" stroke="#888" stroke-width="0.8"/>
<line x1="321.10" y1="197.80" x2="418.10" y2="120.20" stroke="#aaa" stroke-width="0.55"/>
<line x1="321.10" y1="197.80" x2="321.10" y2="196.30" stroke="#555" stroke-width="0.5"/>
<line x1="321.10" y1="120.20" x2="321.10" y2="121.70" stroke="#555" stroke-width="0.5"/>
<line x1="321.10" y1="197.80" x2="322.60" y2="197.80" stroke="#555" stroke-width="0.5"/>
<line x1="418.10" y1="197.80" x2="416.60" y2="197.80" stroke="#555" stroke-width="0.5"/>
<text x="321.10" y="202.40" font-size="3.5" text-anchor="middle" fill="#555">-45</text>
<text x="319.60" y="199.00" font-size="3.5" text-anchor="end" fill="#555">-45</text>
<line x1="325.51" y1="197.80" x2="325.51" y2="197.00" stroke="#555" stroke-width="0.5"/>
<line x1="325.51" y1="120.20" x2="325.51" y2="121.00" stroke="#555" stroke-width="0.5"/>
<line x1="321.10" y1="194.27" x2="321.90" y2="194.27" stroke="#555" stroke-width="0.5"/>
<line x1="418.10" y1="194.27" x2="417.30" y2="194.27" stroke="#555" stroke-width="0.5"/>
<line x1="329.92" y1="197.80" x2="329.92" y2="196.30" stroke="#555" stroke-width="0.5"/>
<line x1="329.92" y1="120.20" x2="329.92" y2="121.70" stroke="#555" stroke-width="0.5"/>
<line x1="321.10" y1="190.75" x2="322.60" y2="190.75" stroke="#555" stroke-width="0.5"/>
<line x1="418.10" y1="190.75" x2="416.60" y2="190.75" stroke="#555" stroke-width="0.5"/>
<text x="329.92" y="202.40" font-size="3.5" text-anchor="middle" fill="#555">-40</text>
<text x="319.60" y="191.95" font-size="3.5" text-anchor="end" fill="#555">-40</text>
<line x1="334.33" y1="197.80" x2="334.33" y2="197.00" stroke="#555" stroke-width="0.5"/>
<line x1="334.33" y1="120.20" x2="334.33" y2="121.00" stroke="#555" stroke-width="0.5"/>
<line x1="321.10" y1="187.22" x2="321.90" y2="187.22" stroke="#555" stroke-width="0.5"/>
<line x1="418.10" y1="187.22" x2="417.30" y2="187.22" stroke="#555" stroke-width="0.5"/>
<line x1="338.74" y1="197.80" x2="338.74" y2="196.30" stroke="#555" stroke-width="0.5"/>
<line x1="338.74" y1="120.20" x2="338.74" y2="121.70" stroke="#555" stroke-width="0.5"/>
<line x1="321.10" y1="183.69" x2="322.60" y2="183.69" stroke="#555" stroke-width="0.5"/>
<line x1="418.10" y1="183.69" x2="416.60" y2="183.69" stroke="#555" stroke-width="0.5"/>
<text x="338.74" y="202.40" font-size="3.5" text-anchor="middle" fill="#555">-35</text>
<text x="319.60" y="184.89" font-size="3.5" text-anchor="end" fill="#555">-35</text>
<line x1="343.15" y1="197.80" x2="343.15" y2="197.00" stroke="#555" stroke-width="0.5"/>
<line x1="343.15" y1="120.20" x2="343.15" y2="121.00" stroke="#555" stroke-width="0.5"/>
<line x1="321.10" y1="180.16" x2="321.90" y2="180.16" stroke="#555" stroke-width="0.5"/>
<line x1="418.10" y1="180.16" x2="417.30" y2="180.16" stroke="#555" stroke-width="0.5"/>
<line x1="347.55" y1="197.80" x2="347.55" y2="196.30" stroke="#555" stroke-width="0.5"/>
<line x1="347.55" y1="120.20" x2="347.55" y2="121.70" stroke="#555" stroke-width="0.5"/>
<line x1="321.10" y1="176.64" x2="322.60" y2="176.64" stroke="#555" stroke-width="0.5"/>
<line x1="418.10" y1="176.64" x2="416.60" y2="176.64" stroke="#555" stroke-width="0.5"/>
<text x="347.55" y="202.40" font-size="3.5" text-anchor="middle" fill="#555">-30</text>
<text x="319.60" y="177.84" font-size="3.5" text-anchor="end" fill="#555">-30</text>
<line x1="351.96" y1="197.80" x2="351.96" y2="197.00" stroke="#555" stroke-width="0.5"/>
<line x1="351.96" y1="120.20" x2="351.96" y2="121.00" stroke="#555" stroke-width="0.5"/>
<line x1="321.10" y1="173.11" x2="321.90" y2="173.11" stroke="#555" stroke-width="0.5"/>
<line x1="418.10" y1="173.11" x2="417.30" y2="173.11" stroke="#555" stroke-width="0.5"/>
<line x1="356.37" y1="197.80" x2="356.37" y2="196.30" stroke="#555" stroke-width="0.5"/>
<line x1="356.37" y1="120.20" x2="356.37" y2="121.70" stroke="#555" stroke-width="0.5"/>
<line x1="321.10" y1="169.58" x2="322.60" y2="169.58" stroke="#555" stroke-width="0.5"/>
<line x1="418.10" y1="169.58" x2="416.60" y2="169.58" stroke="#555" stroke-width="0.5"/>
<text x="356.37" y="202.40" font-size="3.5" text-anchor="middle" fill="#555">-25</text>
<text x="319.60" y="170.78" font-size="3.5" text-anchor="end" fill="#555">-25</text>
<line x1="360.78" y1="197.80" x2="360.78" y2="197.00" stroke="#555" stroke-width="0.5"/>
<line x1="360.78" y1="120.20" x2="360.78" y2="121.00" stroke="#555" stroke-width="0.5"/>
<line x1="321.10" y1="166.05" x2="321.90" y2="166.05" stroke="#555" stroke-width="0.5"/>
<line x1="418.10" y1="166.05" x2="417.30" y2="166.05" stroke="#555" stroke-width="0.5"/>
<line x1="365.19" y1="197.80" x2="365.19" y2="196.30" stroke="#555" stroke-width="0.5"/>
<line x1="365.19" y1="120.20" x2="365.19" y2="121.70" stroke="#555" stroke-width="0.5"/>
<line x1="321.10" y1="162.53" x2="322.60" y2="162.53" stroke="#555" stroke-width="0.5"/>
<line x1="418.10" y1="162.53" x2="416.60" y2="162.53" stroke="#555" stroke-width="0.5"/>
<text x="365.19" y="202.40" font-size="3.5" text-anchor="middle" fill="#555">-20</text>
<text x="319.60" y="163.73" font-size="3.5" text-anchor="end" fill="#555">-20</text>
<line x1="369.60" y1="197.80" x2="369.60" y2="197.00" stroke="#555" stroke-width="0.5"/>
<line x1="369.60" y1="120.20" x2="369.60" y2="121.00" stroke="#555" stroke-width="0.5"/>
<line x1="321.10" y1="159.00" x2="321.90" y2="159.00" stroke="#555" stroke-width="0.5"/>
<line x1="418.10" y1="159.00" x2="417.30" y2="159.00" stroke="#555" stroke-width="0.5"/>
<line x1="374.01" y1="197.80" x2="374.01" y2="196.30" stroke="#555" stroke-width="0.5"/>
<line x1="374.01" y1="120.20" x2="374.01" y2="121.70" stroke="#555" stroke-width="0.5"/>
<line x1="321.10" y1="155.47" x2="322.60" y2="155.47" stroke="#555" stroke-width="0.5"/>
<line x1="418.10" y1="155.47" x2="416.60" y2="155.47" stroke="#555" stroke-width="0.5"/>
<text x="374.01" y="202.40" font-size="3.5" text-anchor="middle" fill="#555">-15</text>
<text x="319.60" y="156.67" font-size="3.5" text-anchor="end" fill="#555">-15</text>
<line x1="378.42" y1="197.80" x2="378.42" y2="197.00" stroke="#555" stroke-width="0.5"/>
<line x1="378.42" y1="120.20" x2="378.42" y2="121.00" stroke="#555" stroke-width="0.5"/>
<line x1="321.10" y1="151.95" x2="321.90" y2="151.95" stroke="#555" stroke-width="0.5"/>
<line x1="418.10" y1="151.95" x2="417.30" y2="151.95" stroke="#555" stroke-width="0.5"/>
<line x1="382.83" y1="197.80" x2="382.83" y2="196.30" stroke="#555" stroke-width="0.5"/>
<line x1="382.83" y1="120.20" x2="382.83" y2="121.70" stroke="#555" stroke-width="0.5"/>
<line x1="321.10" y1="148.42" x2="322.60" y2="148.42" stroke="#555" stroke-width="0.5"/>
<line x1="418.10" y1="148.42" x2="416.60" y2="148.42" stroke="#555" stroke-width="0.5"/>
<text x="382.83" y="202.40" font-size="3.5" text-anchor="middle" fill="#555">-10</text>
<text x="319.60" y="149.62" font-size="3.5" text-anchor="end" fill="#555">-10</text>
<line x1="387.24" y1="197.80" x2="387.24" y2="197.00" stroke="#555" stroke-width="0.5"/>
<line x1="387.24" y1="120.20" x2="387.24" y2="121.00" stroke="#555" stroke-width="0.5"/>
<line x1="321.10" y1="144.89" x2="321.90" y2="144.89" stroke="#555" stroke-width="0.5"/>
<line x1="418.10" y1="144.89" x2="417.30" y2="144.89" stroke="#555" stroke-width="0.5"/>
<line x1="391.65" y1="197.80" x2="391.65" y2="196.30" stroke="#555" stroke-width="0.5"/>
<line x1="391.65" y1="120.20" x2="391.65" y2="121.70" stroke="#555" stroke-width="0.5"/>
<line x1="321.10" y1="141.36" x2="322.60" y2="141.36" stroke="#555" stroke-width="0.5"/>
<line x1="418.10" y1="141.36" x2="416.60" y2="141.36" stroke="#555" stroke-width="0.5"/>
<text x="391.65" y="202.40" font-size="3.5" text-anchor="middle" fill="#555">-5</text>
<text x="319.60" y="142.56" font-size="3.5" text-anchor="end" fill="#555">-5</text>
<line x1="396.05" y1="197.80" x2="396.05" y2="197.00" stroke="#555" stroke-width="0.5"/>
<line x1="396.05" y1="120.20" x2="396.05" y2="121.00" stroke="#555" stroke-width="0.5"/>
<line x1="321.10" y1="137.84" x2="321.90" y2="137.84" stroke="#555" stroke-width="0.5"/>
<line x1="418.10" y1="137.84" x2="417.30" y2="137.84" stroke="#555" stroke-width="0.5"/>
<line x1="400.46" y1="197.80" x2="400.46" y2="196.30" stroke="#555" stroke-width="0.5"/>
<line x1="400.46" y1="120.20" x2="400.46" y2="121.70" stroke="#555" stroke-width="0.5"/>
<line x1="321.10" y1="134.31" x2="322.60" y2="134.31" stroke="#555" stroke-width="0.5"/>
<line x1="418.10" y1="134.31" x2="416.60" y2="134.31" stroke="#555" stroke-width="0.5"/>
<text x="400.46" y="202.40" font-size="3.5" text-anchor="middle" fill="#555">0</text>
<text x="319.60" y="135.51" font-size="3.5" text-anchor="end" fill="#555">0</text>
<line x1="404.87" y1="197.80" x2="404.87" y2="197.00" stroke="#555" stroke-width="0.5"/>
<line x1="404.87" y1="120.20" x2="404.87" y2="121.00" stroke="#555" stroke-width="0.5"/>
<line x1="321.10" y1="130.78" x2="321.90" y2="130.78" stroke="#555" stroke-width="0.5"/>
<line x1="418.10" y1="130.78" x2="417.30" y2="130.78" stroke="#555" stroke-width="0.5"/>
<line x1="409.28" y1="197.80" x2="409.28" y2="196.30" stroke="#555" stroke-width="0.5"/>
<line x1="409.28" y1="120.20" x2="409.28" y2="121.70" stroke="#555" stroke-width="0.5"/>
<line x1="321.10" y1="127.25" x2="322.60" y2="127.25" stroke="#555" stroke-width="0.5"/>
<line x1="418.10" y1="127.25" x2="416.60" y2="127.25" stroke="#555" stroke-width="0.5"/>
<text x="409.28" y="202.40" font-size="3.5" text-anchor="middle" fill="#555">5</text>
<text x="319.60" y="128.45" font-size="3.5" text-anchor="end" fill="#555">5</text>
<line x1="413.69" y1="197.80" x2="413.69" y2="197.00" stroke="#555" stroke-width="0.5"/>
<line x1="413.69" y1="120.20" x2="413.69" y2="121.00" stroke="#555" stroke-width="0.5"/>
<line x1="321.10" y1="123.73" x2="321.90" y2="123.73" stroke="#555" stroke-width="0.5"/>
<line x1="418.10" y1="123.73" x2="417.30" y2="123.73" stroke="#555" stroke-width="0.5"/>
<line x1="418.10" y1="197.80" x2="418.10" y2="196.30" stroke="#555" stroke-width="0.5"/>
<line x1="418.10" y1="120.20" x2="418.10" y2="121.70" stroke="#555" stroke-width="0.5"/>
<line x1="321.10" y1="120.20" x2="322.60" y2="120.20" stroke="#555" stroke-width="0.5"/>
<line x1="418.10" y1="120.20" x2="416.60" y2="120.20" stroke="#555" stroke-width="0.5"/>
<text x="418.10" y="202.40" font-size="3.5" text-anchor="middle" fill="#555">10</text>
<text x="319.60" y="121.40" font-size="3.5" text-anchor="end" fill="#555">10</text>
<text x="369.60" y="207.60" font-size="3.3" text-anchor="middle" fill="#666">Single-Trajectory 100 ns Estimates (kcal/mol)</text>
<text transform="translate(313.50,157.20) rotate(-90)" font-size="3.1" text-anchor="middle" fill="#666">Single-Trajectory 100 ns Estimates (kcal/mol)</text>
<rect x="321.5" y="122.4" width="35.7" height="14.8" fill="#fff" stroke="#999" stroke-width="0.4"/>
<circle cx="326.0" cy="125.6" r="0.6" fill="#3333ff"/>
<text x="330.5" y="126.9" font-size="3.7" fill="#333">GAFF2 + TIP3P</text>
<circle cx="326.0" cy="130" r="0.6" fill="#ff3333"/>
<text x="330.5" y="131.3" font-size="3.7" fill="#333">GAFF2 + SPC/E</text>
<line x1="323.0" y1="134.5" x2="329.0" y2="134.5" stroke="#888" stroke-width="0.4"/>
<text x="330.5" y="135.8" font-size="3.7" fill="#333">y=x</text>
<rect x="398.50" y="134.90" width="1.6" height="1.6" fill="#3030ff" opacity="0.85"/>
<rect x="396.30" y="137.10" width="1.6" height="1.6" fill="#ff3030" opacity="0.85"/>
<rect x="386.50" y="147.40" width="1.6" height="1.6" fill="#ff3030" opacity="0.85"/>
<rect x="382.10" y="148.70" width="1.6" height="1.6" fill="#3030ff" opacity="0.85"/>
<rect x="380.40" y="150.20" width="1.6" height="1.6" fill="#3030ff" opacity="0.85"/>
<rect x="376.70" y="151.30" width="1.6" height="1.6" fill="#3030ff" opacity="0.85"/>
<rect x="375.60" y="151.70" width="1.6" height="1.6" fill="#3030ff" opacity="0.85"/>
<rect x="376.00" y="153.50" width="1.6" height="1.6" fill="#ff3030" opacity="0.85"/>
<rect x="366.80" y="153.00" width="1.6" height="1.6" fill="#ff3030" opacity="0.85"/>
<rect x="371.20" y="153.00" width="1.6" height="1.6" fill="#ff3030" opacity="0.85"/>
<rect x="368.60" y="154.60" width="1.6" height="1.6" fill="#3030ff" opacity="0.85"/>
<rect x="369.50" y="157.80" width="1.6" height="1.6" fill="#3030ff" opacity="0.85"/>
<rect x="369.00" y="158.90" width="1.6" height="1.6" fill="#ff3030" opacity="0.85"/>
<rect x="365.80" y="161.10" width="1.6" height="1.6" fill="#ff3030" opacity="0.85"/>
<rect x="367.90" y="160.50" width="1.6" height="1.6" fill="#3030ff" opacity="0.85"/>
<rect x="363.60" y="163.90" width="1.6" height="1.6" fill="#3030ff" opacity="0.85"/>
<rect x="363.60" y="164.40" width="1.6" height="1.6" fill="#ff3030" opacity="0.85"/>
<rect x="361.00" y="164.40" width="1.6" height="1.6" fill="#3030ff" opacity="0.85"/>
<rect x="353.70" y="168.30" width="1.6" height="1.6" fill="#3030ff" opacity="0.85"/>
<rect x="356.40" y="169.20" width="1.6" height="1.6" fill="#ff3030" opacity="0.85"/>
<rect x="357.00" y="168.30" width="1.6" height="1.6" fill="#3030ff" opacity="0.85"/>
<rect x="334.10" y="181.40" width="1.6" height="1.6" fill="#ff3030" opacity="0.85"/>
<rect x="322.80" y="191.00" width="1.6" height="1.6" fill="#3030ff" opacity="0.85"/>
<text transform="translate(5.4,240.0) scale(0.9,1)" font-size="16.5" fill="#111">a)</text>
<text transform="translate(277.9,240.0) scale(0.9,1)" font-size="16.5" fill="#111">b)</text>
<text transform="translate(5.4,454.7) scale(0.9,1)" font-size="16.5" fill="#111">c)</text>
<text transform="translate(277.6,452.5) scale(0.9,1)" font-size="16.5" fill="#111">d)</text>
<line x1="63.00" y1="253.20" x2="63.00" y2="429.30" stroke="#f3f3f3" stroke-width="0.8"/>
<line x1="97.40" y1="253.20" x2="97.40" y2="429.30" stroke="#f3f3f3" stroke-width="0.8"/>
<line x1="131.80" y1="253.20" x2="131.80" y2="429.30" stroke="#f3f3f3" stroke-width="0.8"/>
<line x1="166.20" y1="253.20" x2="166.20" y2="429.30" stroke="#f3f3f3" stroke-width="0.8"/>
<line x1="200.60" y1="253.20" x2="200.60" y2="429.30" stroke="#f3f3f3" stroke-width="0.8"/>
<line x1="235.00" y1="253.20" x2="235.00" y2="429.30" stroke="#f3f3f3" stroke-width="0.8"/>
<line x1="28.60" y1="429.30" x2="269.40" y2="429.30" stroke="#f3f3f3" stroke-width="0.8"/>
<line x1="28.60" y1="420.50" x2="269.40" y2="420.50" stroke="#f3f3f3" stroke-width="0.8"/>
<line x1="28.60" y1="411.69" x2="269.40" y2="411.69" stroke="#f3f3f3" stroke-width="0.8"/>
<line x1="28.60" y1="402.88" x2="269.40" y2="402.88" stroke="#f3f3f3" stroke-width="0.8"/>
<line x1="28.60" y1="394.08" x2="269.40" y2="394.08" stroke="#f3f3f3" stroke-width="0.8"/>
<line x1="28.60" y1="385.27" x2="269.40" y2="385.27" stroke="#f3f3f3" stroke-width="0.8"/>
<line x1="28.60" y1="376.47" x2="269.40" y2="376.47" stroke="#f3f3f3" stroke-width="0.8"/>
<line x1="28.60" y1="367.66" x2="269.40" y2="367.66" stroke="#f3f3f3" stroke-width="0.8"/>
<line x1="28.60" y1="358.86" x2="269.40" y2="358.86" stroke="#f3f3f3" stroke-width="0.8"/>
<line x1="28.60" y1="350.06" x2="269.40" y2="350.06" stroke="#f3f3f3" stroke-width="0.8"/>
<line x1="28.60" y1="341.25" x2="269.40" y2="341.25" stroke="#f3f3f3" stroke-width="0.8"/>
<line x1="28.60" y1="332.44" x2="269.40" y2="332.44" stroke="#f3f3f3" stroke-width="0.8"/>
<line x1="28.60" y1="323.64" x2="269.40" y2="323.64" stroke="#f3f3f3" stroke-width="0.8"/>
<line x1="28.60" y1="314.83" x2="269.40" y2="314.83" stroke="#f3f3f3" stroke-width="0.8"/>
<line x1="28.60" y1="306.03" x2="269.40" y2="306.03" stroke="#f3f3f3" stroke-width="0.8"/>
<line x1="28.60" y1="297.23" x2="269.40" y2="297.23" stroke="#f3f3f3" stroke-width="0.8"/>
<line x1="28.60" y1="288.42" x2="269.40" y2="288.42" stroke="#f3f3f3" stroke-width="0.8"/>
<line x1="28.60" y1="279.62" x2="269.40" y2="279.62" stroke="#f3f3f3" stroke-width="0.8"/>
<line x1="28.60" y1="270.81" x2="269.40" y2="270.81" stroke="#f3f3f3" stroke-width="0.8"/>
<line x1="28.60" y1="262.00" x2="269.40" y2="262.00" stroke="#f3f3f3" stroke-width="0.8"/>
<line x1="28.60" y1="253.20" x2="269.40" y2="253.20" stroke="#f3f3f3" stroke-width="0.8"/>
<rect x="31.87" y="277.85" width="13.93" height="151.45" fill="#ff00ff"/>
<rect x="45.80" y="296.34" width="13.93" height="132.96" fill="#12c442"/>
<rect x="66.27" y="291.94" width="13.93" height="137.36" fill="#ff00ff"/>
<rect x="80.20" y="305.15" width="13.93" height="124.15" fill="#12c442"/>
<rect x="135.07" y="288.42" width="13.93" height="140.88" fill="#ff00ff"/>
<rect x="149.00" y="311.75" width="13.93" height="117.55" fill="#12c442"/>
<rect x="169.47" y="299.87" width="13.93" height="129.43" fill="#ff00ff"/>
<rect x="183.40" y="315.72" width="13.93" height="113.58" fill="#12c442"/>
<rect x="252.20" y="321.88" width="13.93" height="107.42" fill="#12c442"/>
<rect x="28.60" y="253.20" width="240.80" height="176.10" fill="none" stroke="#555" stroke-width="1.2"/>
<line x1="28.60" y1="429.30" x2="31.90" y2="429.30" stroke="#555" stroke-width="1"/>
<line x1="269.40" y1="429.30" x2="266.10" y2="429.30" stroke="#555" stroke-width="1"/>
<text transform="translate(24.40,431.90) scale(0.92,1)" font-size="8.3" text-anchor="end" fill="#222" style="font-family:'Liberation Sans', sans-serif">0</text>
<line x1="269.40" y1="420.50" x2="267.60" y2="420.50" stroke="#555" stroke-width="1"/>
<line x1="28.60" y1="411.69" x2="31.90" y2="411.69" stroke="#555" stroke-width="1"/>
<line x1="269.40" y1="411.69" x2="266.10" y2="411.69" stroke="#555" stroke-width="1"/>
<text transform="translate(24.40,414.29) scale(0.92,1)" font-size="8.3" text-anchor="end" fill="#222" style="font-family:'Liberation Sans', sans-serif">2</text>
<line x1="269.40" y1="402.88" x2="267.60" y2="402.88" stroke="#555" stroke-width="1"/>
<line x1="28.60" y1="394.08" x2="31.90" y2="394.08" stroke="#555" stroke-width="1"/>
<line x1="269.40" y1="394.08" x2="266.10" y2="394.08" stroke="#555" stroke-width="1"/>
<text transform="translate(24.40,396.68) scale(0.92,1)" font-size="8.3" text-anchor="end" fill="#222" style="font-family:'Liberation Sans', sans-serif">4</text>
<line x1="269.40" y1="385.27" x2="267.60" y2="385.27" stroke="#555" stroke-width="1"/>
<line x1="28.60" y1="376.47" x2="31.90" y2="376.47" stroke="#555" stroke-width="1"/>
<line x1="269.40" y1="376.47" x2="266.10" y2="376.47" stroke="#555" stroke-width="1"/>
<text transform="translate(24.40,379.07) scale(0.92,1)" font-size="8.3" text-anchor="end" fill="#222" style="font-family:'Liberation Sans', sans-serif">6</text>
<line x1="269.40" y1="367.66" x2="267.60" y2="367.66" stroke="#555" stroke-width="1"/>
<line x1="28.60" y1="358.86" x2="31.90" y2="358.86" stroke="#555" stroke-width="1"/>
<line x1="269.40" y1="358.86" x2="266.10" y2="358.86" stroke="#555" stroke-width="1"/>
<text transform="translate(24.40,361.46) scale(0.92,1)" font-size="8.3" text-anchor="end" fill="#222" style="font-family:'Liberation Sans', sans-serif">8</text>
<line x1="269.40" y1="350.06" x2="267.60" y2="350.06" stroke="#555" stroke-width="1"/>
<line x1="28.60" y1="341.25" x2="31.90" y2="341.25" stroke="#555" stroke-width="1"/>
<line x1="269.40" y1="341.25" x2="266.10" y2="341.25" stroke="#555" stroke-width="1"/>
<text transform="translate(24.40,343.85) scale(0.92,1)" font-size="8.3" text-anchor="end" fill="#222" style="font-family:'Liberation Sans', sans-serif">10</text>
<line x1="269.40" y1="332.44" x2="267.60" y2="332.44" stroke="#555" stroke-width="1"/>
<line x1="28.60" y1="323.64" x2="31.90" y2="323.64" stroke="#555" stroke-width="1"/>
<line x1="269.40" y1="323.64" x2="266.10" y2="323.64" stroke="#555" stroke-width="1"/>
<text transform="translate(24.40,326.24) scale(0.92,1)" font-size="8.3" text-anchor="end" fill="#222" style="font-family:'Liberation Sans', sans-serif">12</text>
<line x1="269.40" y1="314.83" x2="267.60" y2="314.83" stroke="#555" stroke-width="1"/>
<line x1="28.60" y1="306.03" x2="31.90" y2="306.03" stroke="#555" stroke-width="1"/>
<line x1="269.40" y1="306.03" x2="266.10" y2="306.03" stroke="#555" stroke-width="1"/>
<text transform="translate(24.40,308.63) scale(0.92,1)" font-size="8.3" text-anchor="end" fill="#222" style="font-family:'Liberation Sans', sans-serif">14</text>
<line x1="269.40" y1="297.23" x2="267.60" y2="297.23" stroke="#555" stroke-width="1"/>
<line x1="28.60" y1="288.42" x2="31.90" y2="288.42" stroke="#555" stroke-width="1"/>
<line x1="269.40" y1="288.42" x2="266.10" y2="288.42" stroke="#555" stroke-width="1"/>
<text transform="translate(24.40,291.02) scale(0.92,1)" font-size="8.3" text-anchor="end" fill="#222" style="font-family:'Liberation Sans', sans-serif">16</text>
<line x1="269.40" y1="279.62" x2="267.60" y2="279.62" stroke="#555" stroke-width="1"/>
<line x1="28.60" y1="270.81" x2="31.90" y2="270.81" stroke="#555" stroke-width="1"/>
<line x1="269.40" y1="270.81" x2="266.10" y2="270.81" stroke="#555" stroke-width="1"/>
<text transform="translate(24.40,273.41) scale(0.92,1)" font-size="8.3" text-anchor="end" fill="#222" style="font-family:'Liberation Sans', sans-serif">18</text>
<line x1="269.40" y1="262.00" x2="267.60" y2="262.00" stroke="#555" stroke-width="1"/>
<line x1="28.60" y1="253.20" x2="31.90" y2="253.20" stroke="#555" stroke-width="1"/>
<line x1="269.40" y1="253.20" x2="266.10" y2="253.20" stroke="#555" stroke-width="1"/>
<text transform="translate(24.40,255.80) scale(0.92,1)" font-size="8.3" text-anchor="end" fill="#222" style="font-family:'Liberation Sans', sans-serif">20</text>
<line x1="45.80" y1="429.30" x2="45.80" y2="426.30" stroke="#555" stroke-width="1"/>
<line x1="45.80" y1="253.20" x2="45.80" y2="256.20" stroke="#555" stroke-width="1"/>
<text transform="translate(45.80,439.80) rotate(-21)" font-size="5.0" text-anchor="middle" fill="#222">PB</text>
<line x1="80.20" y1="429.30" x2="80.20" y2="426.30" stroke="#555" stroke-width="1"/>
<line x1="80.20" y1="253.20" x2="80.20" y2="256.20" stroke="#555" stroke-width="1"/>
<text transform="translate(80.20,439.80) rotate(-21)" font-size="5.0" text-anchor="middle" fill="#222">GB</text>
<line x1="114.60" y1="429.30" x2="114.60" y2="426.30" stroke="#555" stroke-width="1"/>
<line x1="114.60" y1="253.20" x2="114.60" y2="256.20" stroke="#555" stroke-width="1"/>
<text transform="translate(116.60,440.30) rotate(-21)" font-size="5.4" text-anchor="middle" fill="#222">**********</text>
<line x1="149.00" y1="429.30" x2="149.00" y2="426.30" stroke="#555" stroke-width="1"/>
<line x1="149.00" y1="253.20" x2="149.00" y2="256.20" stroke="#555" stroke-width="1"/>
<text transform="translate(149.00,439.80) rotate(-21)" font-size="5.0" text-anchor="middle" fill="#222">PB</text>
<line x1="183.40" y1="429.30" x2="183.40" y2="426.30" stroke="#555" stroke-width="1"/>
<line x1="183.40" y1="253.20" x2="183.40" y2="256.20" stroke="#555" stroke-width="1"/>
<text transform="translate(183.40,439.80) rotate(-21)" font-size="5.0" text-anchor="middle" fill="#222">GB</text>
<line x1="217.80" y1="429.30" x2="217.80" y2="426.30" stroke="#555" stroke-width="1"/>
<line x1="217.80" y1="253.20" x2="217.80" y2="256.20" stroke="#555" stroke-width="1"/>
<text transform="translate(219.80,440.30) rotate(-21)" font-size="5.4" text-anchor="middle" fill="#222">**********</text>
<line x1="252.20" y1="429.30" x2="252.20" y2="426.30" stroke="#555" stroke-width="1"/>
<line x1="252.20" y1="253.20" x2="252.20" y2="256.20" stroke="#555" stroke-width="1"/>
<text transform="translate(253.40,439.80) rotate(-21)" font-size="4.9" text-anchor="middle" fill="#222">Standard-Best</text>
<text transform="translate(11.6,341) rotate(-90)" font-size="9.4" text-anchor="middle" fill="#111">RMSE (kcal/mol)</text>
<text x="149.20" y="456.30" font-size="9.6" text-anchor="middle" fill="#111">Single-Trajectory End-point Calculation</text>
<rect x="81.5" y="258.3" width="58.2" height="23.9" fill="#fff" stroke="#aaa" stroke-width="0.6"/>
<rect x="83.5" y="259.8" width="20.8" height="9.8" fill="#ff00ff"/>
<rect x="83.5" y="271.2" width="20.8" height="9.90" fill="#12c442"/>
<text x="106.5" y="268.6" font-size="9.8" fill="#111">GAFF</text>
<text x="106.5" y="279.6" font-size="9.8" fill="#111">GAFF2</text>
<text x="44.3" y="271.9" font-size="9.4" fill="#111">TIP3P</text>
<text x="151.6" y="271.3" font-size="9.4" fill="#111">SPC/E</text>
<text x="223.6" y="267.6" font-size="9.4" fill="#111">Existing</text>
<text x="223.6" y="278.8" font-size="9.4" fill="#111">Results</text>
<line x1="339.50" y1="254.50" x2="339.50" y2="428.80" stroke="#f3f3f3" stroke-width="0.8"/>
<line x1="373.50" y1="254.50" x2="373.50" y2="428.80" stroke="#f3f3f3" stroke-width="0.8"/>
<line x1="407.50" y1="254.50" x2="407.50" y2="428.80" stroke="#f3f3f3" stroke-width="0.8"/>
<line x1="441.50" y1="254.50" x2="441.50" y2="428.80" stroke="#f3f3f3" stroke-width="0.8"/>
<line x1="475.50" y1="254.50" x2="475.50" y2="428.80" stroke="#f3f3f3" stroke-width="0.8"/>
<line x1="509.50" y1="254.50" x2="509.50" y2="428.80" stroke="#f3f3f3" stroke-width="0.8"/>
<line x1="305.50" y1="254.50" x2="543.50" y2="254.50" stroke="#f3f3f3" stroke-width="0.8"/>
<line x1="305.50" y1="265.39" x2="543.50" y2="265.39" stroke="#f3f3f3" stroke-width="0.8"/>
<line x1="305.50" y1="276.29" x2="543.50" y2="276.29" stroke="#f3f3f3" stroke-width="0.8"/>
<line x1="305.50" y1="287.18" x2="543.50" y2="287.18" stroke="#f3f3f3" stroke-width="0.8"/>
<line x1="305.50" y1="298.07" x2="543.50" y2="298.07" stroke="#f3f3f3" stroke-width="0.8"/>
<line x1="305.50" y1="308.97" x2="543.50" y2="308.97" stroke="#f3f3f3" stroke-width="0.8"/>
<line x1="305.50" y1="319.86" x2="543.50" y2="319.86" stroke="#f3f3f3" stroke-width="0.8"/>
<line x1="305.50" y1="330.76" x2="543.50" y2="330.76" stroke="#f3f3f3" stroke-width="0.8"/>
<line x1="305.50" y1="341.65" x2="543.50" y2="341.65" stroke="#f3f3f3" stroke-width="0.8"/>
<line x1="305.50" y1="352.54" x2="543.50" y2="352.54" stroke="#f3f3f3" stroke-width="0.8"/>
<line x1="305.50" y1="363.44" x2="543.50" y2="363.44" stroke="#f3f3f3" stroke-width="0.8"/>
<line x1="305.50" y1="374.33" x2="543.50" y2="374.33" stroke="#f3f3f3" stroke-width="0.8"/>
<line x1="305.50" y1="385.23" x2="543.50" y2="385.23" stroke="#f3f3f3" stroke-width="0.8"/>
<line x1="305.50" y1="396.12" x2="543.50" y2="396.12" stroke="#f3f3f3" stroke-width="0.8"/>
<line x1="305.50" y1="407.01" x2="543.50" y2="407.01" stroke="#f3f3f3" stroke-width="0.8"/>
<line x1="305.50" y1="417.91" x2="543.50" y2="417.91" stroke="#f3f3f3" stroke-width="0.8"/>
<line x1="305.50" y1="428.80" x2="543.50" y2="428.80" stroke="#f3f3f3" stroke-width="0.8"/>
<rect x="308.73" y="385.23" width="13.77" height="22.44" fill="#ff00ff"/>
<rect x="322.50" y="385.23" width="13.77" height="22.44" fill="#12c442"/>
<rect x="342.73" y="385.23" width="13.77" height="11.55" fill="#ff00ff"/>
<rect x="356.50" y="385.23" width="13.77" height="11.55" fill="#12c442"/>
<rect x="410.73" y="385.23" width="13.77" height="16.78" fill="#ff00ff"/>
<rect x="424.50" y="385.23" width="13.77" height="16.78" fill="#12c442"/>
<rect x="444.73" y="385.23" width="13.77" height="28.32" fill="#ff00ff"/>
<rect x="458.50" y="379.34" width="13.77" height="5.88" fill="#12c442"/>
<rect x="526.50" y="368.23" width="13.77" height="16.99" fill="#12c442"/>
<line x1="305.50" y1="385.23" x2="543.50" y2="385.23" stroke="#333" stroke-width="1"/>
<rect x="305.50" y="254.50" width="238.00" height="174.30" fill="none" stroke="#555" stroke-width="1.2"/>
<line x1="305.50" y1="254.50" x2="308.80" y2="254.50" stroke="#555" stroke-width="1"/>
<line x1="543.50" y1="254.50" x2="540.20" y2="254.50" stroke="#555" stroke-width="1"/>
<text transform="translate(301.30,257.10) scale(0.92,1)" font-size="8.3" text-anchor="end" fill="#222" style="font-family:'Liberation Sans', sans-serif">0.6</text>
<line x1="305.50" y1="276.29" x2="308.80" y2="276.29" stroke="#555" stroke-width="1"/>
<line x1="543.50" y1="276.29" x2="540.20" y2="276.29" stroke="#555" stroke-width="1"/>
<text transform="translate(301.30,278.89) scale(0.92,1)" font-size="8.3" text-anchor="end" fill="#222" style="font-family:'Liberation Sans', sans-serif">0.5</text>
<line x1="305.50" y1="298.07" x2="308.80" y2="298.07" stroke="#555" stroke-width="1"/>
<line x1="543.50" y1="298.07" x2="540.20" y2="298.07" stroke="#555" stroke-width="1"/>
<text transform="translate(301.30,300.68) scale(0.92,1)" font-size="8.3" text-anchor="end" fill="#222" style="font-family:'Liberation Sans', sans-serif">0.4</text>
<line x1="305.50" y1="319.86" x2="308.80" y2="319.86" stroke="#555" stroke-width="1"/>
<line x1="543.50" y1="319.86" x2="540.20" y2="319.86" stroke="#555" stroke-width="1"/>
<text transform="translate(301.30,322.46) scale(0.92,1)" font-size="8.3" text-anchor="end" fill="#222" style="font-family:'Liberation Sans', sans-serif">0.3</text>
<line x1="305.50" y1="341.65" x2="308.80" y2="341.65" stroke="#555" stroke-width="1"/>
<line x1="543.50" y1="341.65" x2="540.20" y2="341.65" stroke="#555" stroke-width="1"/>
<text transform="translate(301.30,344.25) scale(0.92,1)" font-size="8.3" text-anchor="end" fill="#222" style="font-family:'Liberation Sans', sans-serif">0.2</text>
<line x1="305.50" y1="363.44" x2="308.80" y2="363.44" stroke="#555" stroke-width="1"/>
<line x1="543.50" y1="363.44" x2="540.20" y2="363.44" stroke="#555" stroke-width="1"/>
<text transform="translate(301.30,366.04) scale(0.92,1)" font-size="8.3" text-anchor="end" fill="#222" style="font-family:'Liberation Sans', sans-serif">0.1</text>
<line x1="305.50" y1="385.23" x2="308.80" y2="385.23" stroke="#555" stroke-width="1"/>
<line x1="543.50" y1="385.23" x2="540.20" y2="385.23" stroke="#555" stroke-width="1"/>
<text transform="translate(301.30,387.83) scale(0.92,1)" font-size="8.3" text-anchor="end" fill="#222" style="font-family:'Liberation Sans', sans-serif">0.0</text>
<line x1="305.50" y1="407.01" x2="308.80" y2="407.01" stroke="#555" stroke-width="1"/>
<line x1="543.50" y1="407.01" x2="540.20" y2="407.01" stroke="#555" stroke-width="1"/>
<text transform="translate(301.30,409.61) scale(0.92,1)" font-size="8.3" text-anchor="end" fill="#222" style="font-family:'Liberation Sans', sans-serif">-0.1</text>
<line x1="305.50" y1="428.80" x2="308.80" y2="428.80" stroke="#555" stroke-width="1"/>
<line x1="543.50" y1="428.80" x2="540.20" y2="428.80" stroke="#555" stroke-width="1"/>
<text transform="translate(301.30,431.40) scale(0.92,1)" font-size="8.3" text-anchor="end" fill="#222" style="font-family:'Liberation Sans', sans-serif">-0.2</text>
<line x1="322.50" y1="428.80" x2="322.50" y2="425.80" stroke="#555" stroke-width="1"/>
<line x1="322.50" y1="254.50" x2="322.50" y2="257.50" stroke="#555" stroke-width="1"/>
<text transform="translate(322.50,439.30) rotate(-21)" font-size="5.0" text-anchor="middle" fill="#222">PB</text>
<line x1="356.50" y1="428.80" x2="356.50" y2="425.80" stroke="#555" stroke-width="1"/>
<line x1="356.50" y1="254.50" x2="356.50" y2="257.50" stroke="#555" stroke-width="1"/>
<text transform="translate(356.50,439.30) rotate(-21)" font-size="5.0" text-anchor="middle" fill="#222">GB</text>
<line x1="390.50" y1="428.80" x2="390.50" y2="425.80" stroke="#555" stroke-width="1"/>
<line x1="390.50" y1="254.50" x2="390.50" y2="257.50" stroke="#555" stroke-width="1"/>
<text transform="translate(392.50,439.80) rotate(-21)" font-size="5.4" text-anchor="middle" fill="#222">**********</text>
<line x1="424.50" y1="428.80" x2="424.50" y2="425.80" stroke="#555" stroke-width="1"/>
<line x1="424.50" y1="254.50" x2="424.50" y2="257.50" stroke="#555" stroke-width="1"/>
<text transform="translate(424.50,439.30) rotate(-21)" font-size="5.0" text-anchor="middle" fill="#222">PB</text>
<line x1="458.50" y1="428.80" x2="458.50" y2="425.80" stroke="#555" stroke-width="1"/>
<line x1="458.50" y1="254.50" x2="458.50" y2="257.50" stroke="#555" stroke-width="1"/>
<text transform="translate(458.50,439.30) rotate(-21)" font-size="5.0" text-anchor="middle" fill="#222">GB</text>
<line x1="492.50" y1="428.80" x2="492.50" y2="425.80" stroke="#555" stroke-width="1"/>
<line x1="492.50" y1="254.50" x2="492.50" y2="257.50" stroke="#555" stroke-width="1"/>
<text transform="translate(494.50,439.80) rotate(-21)" font-size="5.4" text-anchor="middle" fill="#222">**********</text>
<line x1="526.50" y1="428.80" x2="526.50" y2="425.80" stroke="#555" stroke-width="1"/>
<line x1="526.50" y1="254.50" x2="526.50" y2="257.50" stroke="#555" stroke-width="1"/>
<text transform="translate(527.70,439.30) rotate(-21)" font-size="4.9" text-anchor="middle" fill="#222">Standard-Best</text>
<text transform="translate(284.0,343) rotate(-90)" font-size="9.3" text-anchor="middle" fill="#111">Kendall τ</text>
<text x="424.70" y="453.90" font-size="9.6" text-anchor="middle" fill="#111">Single-Trajectory End-point Calculation</text>
<rect x="362.2" y="259.8" width="58.4" height="24.0" fill="#fff" stroke="#aaa" stroke-width="0.6"/>
<rect x="364.2" y="261.3" width="20.8" height="9.8" fill="#ff00ff"/>
<rect x="364.2" y="272.7" width="20.8" height="10.00" fill="#12c442"/>
<text x="387.2" y="270.1" font-size="9.8" fill="#111">GAFF</text>
<text x="387.2" y="281.1" font-size="9.8" fill="#111">GAFF2</text>
<text x="320.7" y="273.3" font-size="9.4" fill="#111">TIP3P</text>
<text x="429.8" y="273" font-size="9.4" fill="#111">SPC/E</text>
<text x="502" y="270.3" font-size="9.4" fill="#111">Existing</text>
<text x="502" y="281.5" font-size="9.4" fill="#111">Results</text>
</svg></body></html>
